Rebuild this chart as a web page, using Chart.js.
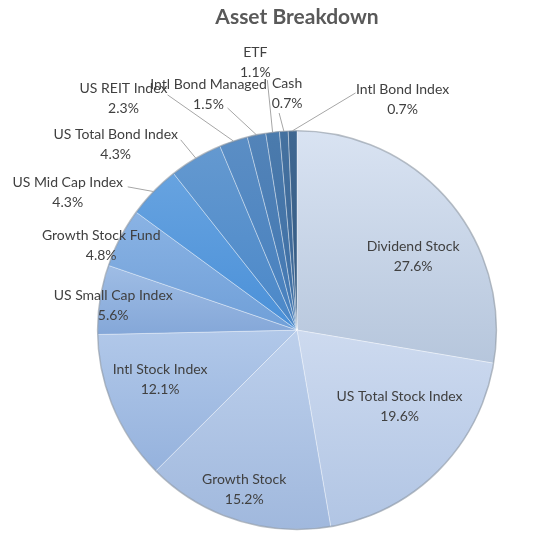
<!DOCTYPE html>
<html lang="en">
<head>
  <meta charset="UTF-8" />
  <title>Asset Breakdown</title>
  <script src="https://cdn.jsdelivr.net/npm/chart.js"></script>
  <style>
    html, body {
      margin: 0;
      padding: 0;
      background: #ffffff;
    }
    #wrap {
      width: 539px;
      height: 538px;
    }
  </style>
</head>
<body>
  <div id="wrap"><canvas id="pieChart"></canvas></div>

  <script>
    // data (percent of portfolio)
    const assetNames = [
      "Dividend Stock", "US Total Stock Index", "Growth Stock", "Intl Stock Index",
      "US Small Cap Index", "Growth Stock Fund", "US Mid Cap Index", "US Total Bond Index",
      "US REIT Index", "Intl Bond Managed", "ETF", "Cash", "Intl Bond Index"
    ];
    const assetShares = [27.6, 19.6, 15.2, 12.1, 5.6, 4.8, 4.3, 4.3, 2.3, 1.5, 1.1, 0.7, 0.7];

    // slice colours, light at the top of each slice, darker at the bottom
    const topColors = [
      "#d9e3f2", "#cddaef", "#bdd0ec", "#b1c8e9", "#9fbde5", "#8ab3e4", "#67a3e0",
      "#6499d0", "#5b8ec5", "#5384b9", "#4b7bad", "#4572a0", "#3f6791"
    ];
    const bottomColors = [
      "#b6c6dc", "#b1c5e4", "#a0b8dd", "#95b2dd", "#84a7d8", "#6f9fd8", "#4a90d8",
      "#4a87c8", "#467fbd", "#4176b0", "#3d6da2", "#396393", "#345980"
    ];

    // where each label sits: da = degrees added to the slice's mid angle,
    // r = distance from centre in radii, link = where the leader line meets the text
    const labelLayout = [
      { da: 7.8, r: 0.69 },
      { da: -8.4, r: 0.64 },
      { da: 0.7, r: 0.84 },
      { da: 3.2, r: 0.73 },
      { da: -1.2, r: 0.93 },
      { da: -4.2, r: 1.07 },
      { da: -13.1, r: 1.34, link: [60, -6] },
      { da: -13.9, r: 1.30, link: [65, -5] },
      { da: -18.3, r: 1.45, link: [44, -4] },
      { da: -8.9, r: 1.26, link: [19, 13] },
      { da: -1.8, r: 1.36, link: [12, 18] },
      { da: 1.4, r: 1.19, link: [-8, 20] },
      { da: 25.9, r: 1.27, link: [-47, -7] }
    ];

    const fontFamily = "Lato, 'Noto Sans', sans-serif";

    // vertical gradient spanning the bounding box of one slice
    function sliceGradient(context) {
      const chart = context.chart;
      const area = chart.chartArea;
      const i = context.dataIndex;
      if (!area || i === undefined) return topColors[i] || "#9fbde5";
      const cy = (area.top + area.bottom) / 2;
      const R = Math.min(area.width, area.height) / 2;
      const total = assetShares.reduce((a, b) => a + b, 0);
      let before = 0;
      for (let k = 0; k < i; k++) before += assetShares[k];
      const a0 = before / total * Math.PI * 2;
      const a1 = (before + assetShares[i]) / total * Math.PI * 2;
      // angle measured clockwise from 12 o'clock, y = cy - R cos(a)
      let ys = [cy, cy - R * Math.cos(a0), cy - R * Math.cos(a1)];
      if (a0 <= 0) ys.push(cy - R);
      if (a0 <= Math.PI && a1 >= Math.PI) ys.push(cy + R);
      const y0 = Math.min(...ys);
      const y1 = Math.max(...ys);
      const g = chart.ctx.createLinearGradient(0, y0, 0, y1 + 1);
      g.addColorStop(0, topColors[i]);
      g.addColorStop(1, bottomColors[i]);
      return g;
    }

    const sliceLabels = {
      id: "sliceLabels",
      afterDatasetsDraw(chart) {
        const ctx = chart.ctx;
        const meta = chart.getDatasetMeta(0);
        ctx.save();

        // soft grey rim round the pie
        const first = meta.data[0];
        ctx.beginPath();
        ctx.arc(first.x, first.y, first.outerRadius, 0, Math.PI * 2);
        ctx.strokeStyle = "rgba(128, 138, 152, 0.55)";
        ctx.lineWidth = 1.5;
        ctx.stroke();

        ctx.font = "14px " + fontFamily;
        ctx.fillStyle = "#404040";
        ctx.textAlign = "center";
        ctx.textBaseline = "middle";

        meta.data.forEach((arc, i) => {
          const p = arc.getProps(["x", "y", "startAngle", "endAngle", "outerRadius"], true);
          const mid = (p.startAngle + p.endAngle) / 2;
          const lay = labelLayout[i];
          const a = mid + lay.da * Math.PI / 180;
          const lx = p.x + Math.cos(a) * lay.r * p.outerRadius;
          const ly = p.y + Math.sin(a) * lay.r * p.outerRadius;

          if (lay.link) {
            const ex = p.x + Math.cos(mid) * p.outerRadius;
            const ey = p.y + Math.sin(mid) * p.outerRadius;
            const sx = lx + lay.link[0];
            const sy = ly + lay.link[1];
            ctx.beginPath();
            ctx.moveTo(sx, sy);
            ctx.lineTo(ex, ey);
            ctx.strokeStyle = "#a6a6a6";
            ctx.lineWidth = 1;
            ctx.stroke();
          }

          ctx.fillText(assetNames[i], lx, ly - 10);
          ctx.fillText(assetShares[i].toFixed(1) + "%", lx, ly + 10);
        });
        ctx.restore();
      }
    };

    new Chart(document.getElementById("pieChart"), {
      type: "pie",
      data: {
        labels: assetNames,
        datasets: [{
          data: assetShares,
          backgroundColor: sliceGradient,
          borderColor: "rgba(255, 255, 255, 0.35)",
          borderWidth: 1
        }]
      },
      options: {
        responsive: true,
        maintainAspectRatio: false,
        animation: false,
        layout: {
          padding: { top: 0, left: 97, right: 42, bottom: 8 }
        },
        plugins: {
          legend: { display: false },
          tooltip: { enabled: false },
          title: {
            display: true,
            text: "Asset Breakdown",
            color: "#595959",
            font: { family: fontFamily, size: 21, weight: "bold" },
            padding: { top: 5, bottom: 100 }
          }
        }
      },
      plugins: [sliceLabels]
    });
  </script>
</body>
</html>
